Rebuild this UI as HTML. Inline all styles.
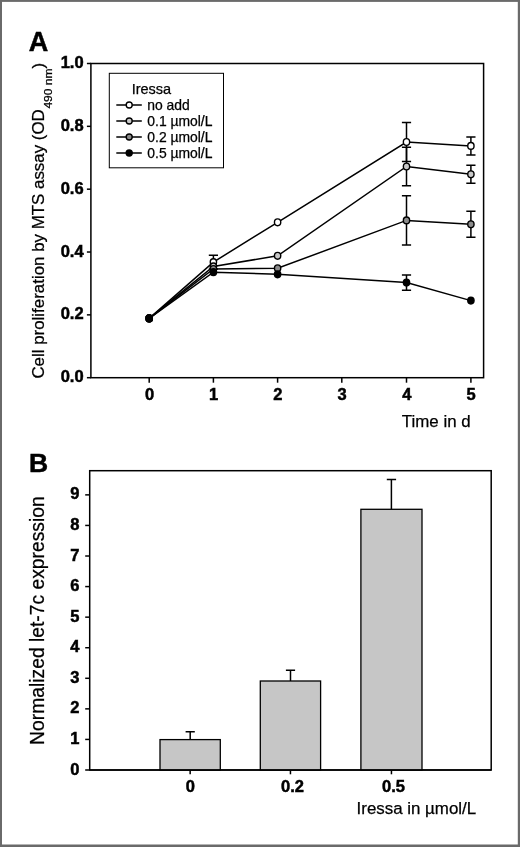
<!DOCTYPE html>
<html lang="en"><head><meta charset="utf-8"><title>Figure</title>
<style>html,body{margin:0;padding:0;background:#fff}body{width:520px;height:847px;overflow:hidden}svg{display:block}text{font-family:"Liberation Sans", Arial, Helvetica, sans-serif;fill:#000;stroke:#000;stroke-width:0.25px}text[font-weight=bold]{stroke-width:0.5px}</style>
</head><body>
<svg width="520" height="847" viewBox="0 0 520 847">
<rect x="0" y="0" width="520" height="847" fill="#fff"/>
<rect x="0" y="0" width="520" height="1.9" fill="#6a6a6a"/>
<rect x="0" y="0" width="2" height="847" fill="#6a6a6a"/>
<rect x="517.8" y="0" width="2.2" height="847" fill="#6a6a6a"/>
<rect x="0" y="844.5" width="520" height="2.5" fill="#6a6a6a"/>
<text x="28.8" y="51.4" font-size="27" font-weight="bold">A</text>
<rect x="90.9" y="63.5" width="392.70000000000005" height="314.2" fill="none" stroke="#000" stroke-width="1.5"/>
<line x1="86.90" y1="377.70" x2="90.90" y2="377.70" stroke="#000" stroke-width="1.5"/>
<text x="83.6" y="382.30" font-size="16.5" font-weight="bold" text-anchor="end">0.0</text>
<line x1="86.90" y1="314.86" x2="90.90" y2="314.86" stroke="#000" stroke-width="1.5"/>
<text x="83.6" y="319.46" font-size="16.5" font-weight="bold" text-anchor="end">0.2</text>
<line x1="86.90" y1="252.02" x2="90.90" y2="252.02" stroke="#000" stroke-width="1.5"/>
<text x="83.6" y="256.62" font-size="16.5" font-weight="bold" text-anchor="end">0.4</text>
<line x1="86.90" y1="189.18" x2="90.90" y2="189.18" stroke="#000" stroke-width="1.5"/>
<text x="83.6" y="193.78" font-size="16.5" font-weight="bold" text-anchor="end">0.6</text>
<line x1="86.90" y1="126.34" x2="90.90" y2="126.34" stroke="#000" stroke-width="1.5"/>
<text x="83.6" y="130.94" font-size="16.5" font-weight="bold" text-anchor="end">0.8</text>
<line x1="86.90" y1="63.50" x2="90.90" y2="63.50" stroke="#000" stroke-width="1.5"/>
<text x="83.6" y="68.10" font-size="16.5" font-weight="bold" text-anchor="end">1.0</text>
<line x1="149.20" y1="377.70" x2="149.20" y2="382.70" stroke="#000" stroke-width="1.5"/>
<text x="149.50" y="400.0" font-size="16.5" font-weight="bold" text-anchor="middle">0</text>
<line x1="213.40" y1="377.70" x2="213.40" y2="382.70" stroke="#000" stroke-width="1.5"/>
<text x="213.70" y="400.0" font-size="16.5" font-weight="bold" text-anchor="middle">1</text>
<line x1="277.60" y1="377.70" x2="277.60" y2="382.70" stroke="#000" stroke-width="1.5"/>
<text x="277.90" y="400.0" font-size="16.5" font-weight="bold" text-anchor="middle">2</text>
<line x1="341.80" y1="377.70" x2="341.80" y2="382.70" stroke="#000" stroke-width="1.5"/>
<text x="342.10" y="400.0" font-size="16.5" font-weight="bold" text-anchor="middle">3</text>
<line x1="406.50" y1="377.70" x2="406.50" y2="382.70" stroke="#000" stroke-width="1.5"/>
<text x="406.80" y="400.0" font-size="16.5" font-weight="bold" text-anchor="middle">4</text>
<line x1="470.90" y1="377.70" x2="470.90" y2="382.70" stroke="#000" stroke-width="1.5"/>
<text x="471.20" y="400.0" font-size="16.5" font-weight="bold" text-anchor="middle">5</text>
<text x="401.8" y="427" font-size="16.9">Time in d</text>
<g transform="translate(43.8,378.6) rotate(-90)"><text x="0" y="0" font-size="16.9">Cell proliferation by MTS assay (OD</text><text transform="translate(270,7.9) scale(1.165,1)" font-size="10.3">490 nm</text><text x="310.2" y="0" font-size="16.9">)</text></g>
<path d="M149.2,318.4 L213.4,262.1 L277.6,222.3 L406.5,142.0 L470.9,145.9" fill="none" stroke="#000" stroke-width="1.5"/>
<path d="M149.2,318.4 L213.4,266.4 L277.6,255.8 L406.5,166.5 L470.9,174.3" fill="none" stroke="#000" stroke-width="1.5"/>
<path d="M149.2,318.4 L213.4,269.0 L277.6,268.3 L406.5,220.4 L470.9,224.3" fill="none" stroke="#000" stroke-width="1.5"/>
<path d="M149.2,318.4 L213.4,272.2 L277.6,274.3 L406.5,282.6 L470.9,300.6" fill="none" stroke="#000" stroke-width="1.5"/>
<path d="M213.4,255.2 V269.0 M208.8,255.2 H218.0 M208.8,269.0 H218.0" fill="none" stroke="#000" stroke-width="1.5"/>
<path d="M406.5,122.6 V161.4 M401.9,122.6 H411.1 M401.9,161.4 H411.1" fill="none" stroke="#000" stroke-width="1.5"/>
<path d="M470.9,136.9 V154.9 M466.3,136.9 H475.5 M466.3,154.9 H475.5" fill="none" stroke="#000" stroke-width="1.5"/>
<path d="M406.5,147.2 V185.8 M401.9,147.2 H411.1 M401.9,185.8 H411.1" fill="none" stroke="#000" stroke-width="1.5"/>
<path d="M470.9,165.3 V183.3 M466.3,165.3 H475.5 M466.3,183.3 H475.5" fill="none" stroke="#000" stroke-width="1.5"/>
<path d="M406.5,195.8 V245.0 M401.9,195.8 H411.1 M401.9,245.0 H411.1" fill="none" stroke="#000" stroke-width="1.5"/>
<path d="M470.9,211.3 V237.3 M466.3,211.3 H475.5 M466.3,237.3 H475.5" fill="none" stroke="#000" stroke-width="1.5"/>
<path d="M406.5,274.9 V290.3 M401.9,274.9 H411.1 M401.9,290.3 H411.1" fill="none" stroke="#000" stroke-width="1.5"/>
<ellipse cx="149.2" cy="318.4" rx="3.15" ry="3.4" fill="#ffffff" stroke="#000" stroke-width="1.4"/>
<ellipse cx="213.4" cy="262.1" rx="3.15" ry="3.4" fill="#ffffff" stroke="#000" stroke-width="1.4"/>
<ellipse cx="277.6" cy="222.3" rx="3.15" ry="3.4" fill="#ffffff" stroke="#000" stroke-width="1.4"/>
<ellipse cx="406.5" cy="142.0" rx="3.15" ry="3.4" fill="#ffffff" stroke="#000" stroke-width="1.4"/>
<ellipse cx="470.9" cy="145.9" rx="3.15" ry="3.4" fill="#ffffff" stroke="#000" stroke-width="1.4"/>
<ellipse cx="149.2" cy="318.4" rx="3.15" ry="3.4" fill="#c8c8c8" stroke="#000" stroke-width="1.4"/>
<ellipse cx="213.4" cy="266.4" rx="3.15" ry="3.4" fill="#c8c8c8" stroke="#000" stroke-width="1.4"/>
<ellipse cx="277.6" cy="255.8" rx="3.15" ry="3.4" fill="#c8c8c8" stroke="#000" stroke-width="1.4"/>
<ellipse cx="406.5" cy="166.5" rx="3.15" ry="3.4" fill="#c8c8c8" stroke="#000" stroke-width="1.4"/>
<ellipse cx="470.9" cy="174.3" rx="3.15" ry="3.4" fill="#c8c8c8" stroke="#000" stroke-width="1.4"/>
<ellipse cx="149.2" cy="318.4" rx="3.15" ry="3.4" fill="#8c8c8c" stroke="#000" stroke-width="1.4"/>
<ellipse cx="213.4" cy="269.0" rx="3.15" ry="3.4" fill="#8c8c8c" stroke="#000" stroke-width="1.4"/>
<ellipse cx="277.6" cy="268.3" rx="3.15" ry="3.4" fill="#8c8c8c" stroke="#000" stroke-width="1.4"/>
<ellipse cx="406.5" cy="220.4" rx="3.15" ry="3.4" fill="#8c8c8c" stroke="#000" stroke-width="1.4"/>
<ellipse cx="470.9" cy="224.3" rx="3.15" ry="3.4" fill="#8c8c8c" stroke="#000" stroke-width="1.4"/>
<ellipse cx="149.2" cy="318.4" rx="3.15" ry="3.4" fill="#000000" stroke="#000" stroke-width="1.4"/>
<ellipse cx="213.4" cy="272.2" rx="3.15" ry="3.4" fill="#000000" stroke="#000" stroke-width="1.4"/>
<ellipse cx="277.6" cy="274.3" rx="3.15" ry="3.4" fill="#000000" stroke="#000" stroke-width="1.4"/>
<ellipse cx="406.5" cy="282.6" rx="3.15" ry="3.4" fill="#000000" stroke="#000" stroke-width="1.4"/>
<ellipse cx="470.9" cy="300.6" rx="3.15" ry="3.4" fill="#000000" stroke="#000" stroke-width="1.4"/>
<rect x="109.3" y="73.3" width="114.2" height="94.5" fill="#fff" stroke="#000" stroke-width="1"/>
<text x="131.7" y="93.8" font-size="14.5">Iressa</text>
<line x1="116.3" y1="105" x2="141.8" y2="105" stroke="#000" stroke-width="1.5"/>
<circle cx="129.2" cy="105" r="3.0" fill="#ffffff" stroke="#000" stroke-width="1.4"/>
<text x="147.3" y="109.6" font-size="13.9">no add</text>
<line x1="116.3" y1="121" x2="141.8" y2="121" stroke="#000" stroke-width="1.5"/>
<circle cx="129.2" cy="121" r="3.0" fill="#c8c8c8" stroke="#000" stroke-width="1.4"/>
<text x="147.3" y="125.6" font-size="13.9">0.1 µmol/L</text>
<line x1="116.3" y1="137" x2="141.8" y2="137" stroke="#000" stroke-width="1.5"/>
<circle cx="129.2" cy="137" r="3.0" fill="#8c8c8c" stroke="#000" stroke-width="1.4"/>
<text x="147.3" y="141.6" font-size="13.9">0.2 µmol/L</text>
<line x1="116.3" y1="153" x2="141.8" y2="153" stroke="#000" stroke-width="1.5"/>
<circle cx="129.2" cy="153" r="3.0" fill="#000000" stroke="#000" stroke-width="1.4"/>
<text x="147.3" y="157.6" font-size="13.9">0.5 µmol/L</text>
<text x="29" y="472.3" font-size="26.5" font-weight="bold">B</text>
<rect x="89.7" y="470.7" width="401.5" height="299.3" fill="none" stroke="#000" stroke-width="1.5"/>
<line x1="85.20" y1="770.00" x2="89.70" y2="770.00" stroke="#000" stroke-width="1.5"/>
<text x="79.4" y="774.60" font-size="16.5" font-weight="bold" text-anchor="end">0</text>
<line x1="85.20" y1="739.43" x2="89.70" y2="739.43" stroke="#000" stroke-width="1.5"/>
<text x="79.4" y="744.03" font-size="16.5" font-weight="bold" text-anchor="end">1</text>
<line x1="85.20" y1="708.86" x2="89.70" y2="708.86" stroke="#000" stroke-width="1.5"/>
<text x="79.4" y="713.46" font-size="16.5" font-weight="bold" text-anchor="end">2</text>
<line x1="85.20" y1="678.29" x2="89.70" y2="678.29" stroke="#000" stroke-width="1.5"/>
<text x="79.4" y="682.89" font-size="16.5" font-weight="bold" text-anchor="end">3</text>
<line x1="85.20" y1="647.72" x2="89.70" y2="647.72" stroke="#000" stroke-width="1.5"/>
<text x="79.4" y="652.32" font-size="16.5" font-weight="bold" text-anchor="end">4</text>
<line x1="85.20" y1="617.15" x2="89.70" y2="617.15" stroke="#000" stroke-width="1.5"/>
<text x="79.4" y="621.75" font-size="16.5" font-weight="bold" text-anchor="end">5</text>
<line x1="85.20" y1="586.58" x2="89.70" y2="586.58" stroke="#000" stroke-width="1.5"/>
<text x="79.4" y="591.18" font-size="16.5" font-weight="bold" text-anchor="end">6</text>
<line x1="85.20" y1="556.01" x2="89.70" y2="556.01" stroke="#000" stroke-width="1.5"/>
<text x="79.4" y="560.61" font-size="16.5" font-weight="bold" text-anchor="end">7</text>
<line x1="85.20" y1="525.44" x2="89.70" y2="525.44" stroke="#000" stroke-width="1.5"/>
<text x="79.4" y="530.04" font-size="16.5" font-weight="bold" text-anchor="end">8</text>
<line x1="85.20" y1="494.87" x2="89.70" y2="494.87" stroke="#000" stroke-width="1.5"/>
<text x="79.4" y="499.47" font-size="16.5" font-weight="bold" text-anchor="end">9</text>
<path d="M190.2,739.6 V731.7 M185.6,731.7 H194.8" fill="none" stroke="#000" stroke-width="1.5"/>
<rect x="160.0" y="739.6" width="60.3" height="30.4" fill="#c6c6c6" stroke="#000" stroke-width="1.3"/>
<line x1="190.15" y1="770.00" x2="190.15" y2="774.30" stroke="#000" stroke-width="1.5"/>
<text x="190.45" y="792.2" font-size="16.5" font-weight="bold" text-anchor="middle">0</text>
<path d="M290.5,681.0 V670.2 M285.9,670.2 H295.1" fill="none" stroke="#000" stroke-width="1.5"/>
<rect x="260.3" y="681.0" width="60.3" height="89.0" fill="#c6c6c6" stroke="#000" stroke-width="1.3"/>
<line x1="290.45" y1="770.00" x2="290.45" y2="774.30" stroke="#000" stroke-width="1.5"/>
<text x="292.45" y="792.2" font-size="16.5" font-weight="bold" text-anchor="middle">0.2</text>
<path d="M391.4,509.3 V479.6 M386.8,479.6 H396.1" fill="none" stroke="#000" stroke-width="1.5"/>
<rect x="360.9" y="509.3" width="61.1" height="260.7" fill="#c6c6c6" stroke="#000" stroke-width="1.3"/>
<line x1="391.45" y1="770.00" x2="391.45" y2="774.30" stroke="#000" stroke-width="1.5"/>
<text x="393.45" y="792.2" font-size="16.5" font-weight="bold" text-anchor="middle">0.5</text>
<line x1="89.7" y1="770.0" x2="491.2" y2="770.0" stroke="#000" stroke-width="1.5"/>
<text x="356.6" y="814.3" font-size="16.9">Iressa in µmol/L</text>
<text transform="translate(44.2,744.9) rotate(-90)" font-size="19.3">Normalized let-7c expression</text>
</svg>
</body></html>
